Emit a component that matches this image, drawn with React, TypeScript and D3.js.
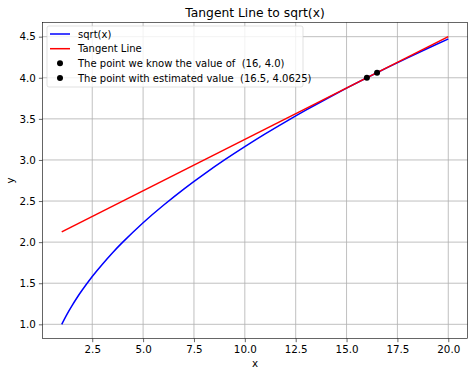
import React, { useEffect, useRef } from "react";
import * as d3 from "d3";

// sqrt(x) curve, values
const curveX = [1, 1.25, 1.5, 1.75, 2, 2.5, 3, 3.5, 4, 5, 6, 7, 8, 9, 10, 11, 12, 13, 14, 15, 16, 17, 18, 19, 20];
const curveY = [1.0, 1.118, 1.225, 1.323, 1.414, 1.581, 1.732, 1.871, 2.0, 2.236, 2.449, 2.646, 2.828, 3.0, 3.162, 3.317, 3.464, 3.606, 3.742, 3.873, 4.0, 4.123, 4.243, 4.359, 4.472];
// tangent line endpoints
const tangentX = [1, 20];
const tangentY = [2.125, 4.5];
// marked points
const pointX = [16, 16.5];
const pointY = [4.0, 4.0625];
const legendLabels = [
  "sqrt(x)",
  "Tangent Line",
  "The point we know the value of  (16, 4.0)",
  "The point with estimated value  (16.5, 4.0625)",
];
const xTicks = [2.5, 5.0, 7.5, 10.0, 12.5, 15.0, 17.5, 20.0];
const yTicks = [1.0, 1.5, 2.0, 2.5, 3.0, 3.5, 4.0, 4.5];

const W = 474, H = 375;
const FONT = "DejaVu Sans, sans-serif";

const App = () => {
  const ref = useRef<SVGSVGElement>(null);

  useEffect(() => {
    const svg = d3.select(ref.current);
    svg.selectAll("*").remove();

    const left = 42.4, right = 467.6, top = 22.3, bottom = 338.7;
    const x = d3.scaleLinear().domain([0.05, 20.95]).range([left, right]);
    const y = d3.scaleLinear().domain([0.825, 4.675]).range([bottom, top]);

    svg.append("rect").attr("width", W).attr("height", H).attr("fill", "#fff");

    // grid
    const g = svg.append("g");
    g.selectAll("line.gx").data(xTicks).enter().append("line")
      .attr("x1", d => x(d)).attr("x2", d => x(d))
      .attr("y1", top).attr("y2", bottom)
      .attr("stroke", "#b0b0b0").attr("stroke-width", 0.8);
    g.selectAll("line.gy").data(yTicks).enter().append("line")
      .attr("y1", d => y(d)).attr("y2", d => y(d))
      .attr("x1", left).attr("x2", right)
      .attr("stroke", "#b0b0b0").attr("stroke-width", 0.8);

    // lines
    const pts = curveX.map((v, i) => [v, curveY[i]] as [number, number]);
    const line = d3.line<[number, number]>().x(d => x(d[0])).y(d => y(d[1]));
    svg.append("path").attr("d", line.curve(d3.curveNatural)(pts))
      .attr("fill", "none").attr("stroke", "#0000ff").attr("stroke-width", 1.5);
    const tpts = tangentX.map((v, i) => [v, tangentY[i]] as [number, number]);
    svg.append("path").attr("d", d3.line<[number, number]>().x(d => x(d[0])).y(d => y(d[1]))(tpts))
      .attr("fill", "none").attr("stroke", "#ff0000").attr("stroke-width", 1.5);

    svg.selectAll("circle.pt").data(pointX).enter().append("circle")
      .attr("cx", d => x(d)).attr("cy", (d, i) => y(pointY[i]))
      .attr("r", 3).attr("fill", "#000");

    // spines
    svg.append("rect").attr("x", left).attr("y", top)
      .attr("width", right - left).attr("height", bottom - top)
      .attr("fill", "none").attr("stroke", "#000").attr("stroke-width", 0.6);

    // axes
    const xa = svg.append("g").attr("transform", `translate(0,${bottom})`)
      .call(d3.axisBottom(x).tickValues(xTicks).tickFormat(d3.format(".1f")).tickSize(3.5).tickPadding(3));
    const ya = svg.append("g").attr("transform", `translate(${left},0)`)
      .call(d3.axisLeft(y).tickValues(yTicks).tickFormat(d3.format(".1f")).tickSize(3.5).tickPadding(3));
    [xa, ya].forEach(a => {
      a.select(".domain").remove();
      a.selectAll("line").attr("stroke", "#000").attr("stroke-width", 0.6);
      a.selectAll("text").attr("font-family", FONT).attr("font-size", 10.3).attr("fill", "#000");
    });

    // labels
    svg.append("text").attr("x", (left + right) / 2).attr("y", 17)
      .attr("text-anchor", "middle").attr("font-family", FONT).attr("font-size", 12.3)
      .text("Tangent Line to sqrt(x)");
    svg.append("text").attr("x", (left + right) / 2).attr("y", 367)
      .attr("text-anchor", "middle").attr("font-family", FONT).attr("font-size", 10.3).text("x");
    svg.append("text").attr("transform", `translate(14,${(top + bottom) / 2}) rotate(-90)`)
      .attr("text-anchor", "middle").attr("font-family", FONT).attr("font-size", 10.3).text("y");

    // legend
    const lg = svg.append("g");
    lg.append("rect").attr("x", 47).attr("y", 26).attr("width", 256).attr("height", 61)
      .attr("rx", 2).attr("fill", "#fff").attr("fill-opacity", 0.8)
      .attr("stroke", "#ccc").attr("stroke-width", 0.6);
    const rowY = [34, 48.7, 63.3, 78];
    const colors = ["#0000ff", "#ff0000"];
    legendLabels.forEach((lab, i) => {
      if (i < 2) {
        lg.append("line").attr("x1", 50).attr("x2", 70).attr("y1", rowY[i]).attr("y2", rowY[i])
          .attr("stroke", colors[i]).attr("stroke-width", 1.5);
      } else {
        lg.append("circle").attr("cx", 60).attr("cy", rowY[i]).attr("r", 3).attr("fill", "#000");
      }
      lg.append("text").attr("x", 78).attr("y", rowY[i] + 3.7)
        .style("white-space", "pre")
        .attr("font-family", FONT).attr("font-size", 10).text(lab);
    });
  }, []);

  return (
    <svg ref={ref} width={W} height={H}
      style={{ position: "absolute", top: 0, left: 0 }} />
  );
};

export default App;
